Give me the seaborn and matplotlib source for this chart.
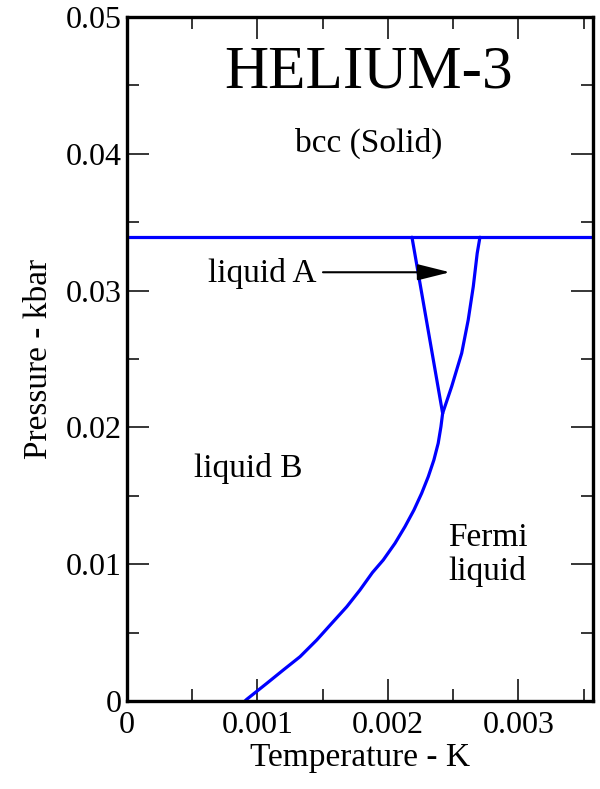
import numpy as np
import pandas as pd
import matplotlib
matplotlib.use('Agg')
import matplotlib.pyplot as plt
import matplotlib.ticker as mticker
import seaborn as sns

# phase boundaries of He-3 (T in K, P in kbar)
melt_T = [0.0, 0.00357]
melt_P = [0.0339, 0.0339]

ab_T = [0.002184, 0.002419]
ab_P = [0.0339, 0.02103]

an_T = [0.002705, 0.002684, 0.002654, 0.002615, 0.002565, 0.002488, 0.002419]
an_P = [0.0339, 0.03273, 0.03030, 0.02785, 0.02542, 0.02298, 0.02103]

bn_T = [0.002419, 0.002406, 0.002385, 0.002352, 0.002309, 0.002258, 0.002199,
        0.002130, 0.002054, 0.001964, 0.001881, 0.001785, 0.001684, 0.001569,
        0.001454, 0.001326, 0.001198, 0.001071, 0.000917, 0.000904]
bn_P = [0.02103, 0.02005, 0.01884, 0.01762, 0.01640, 0.01518, 0.01396,
        0.01274, 0.01153, 0.01031, 0.00939, 0.00811, 0.00689, 0.00568,
        0.00446, 0.00324, 0.00227, 0.00129, 0.00012, 0.0]

x_ticks = [0, 0.001, 0.002, 0.003]
y_ticks = [0, 0.01, 0.02, 0.03, 0.04, 0.05]

sns.set_style('ticks')
plt.rcParams['font.family'] = ['Liberation Serif', 'DejaVu Serif']
plt.rcParams['text.color'] = 'black'
plt.rcParams['axes.labelcolor'] = 'black'
plt.rcParams['xtick.color'] = 'black'
plt.rcParams['ytick.color'] = 'black'

fig = plt.figure(figsize=(6, 7.89), dpi=100)
ax = fig.add_axes([0.2117, 0.1115, 0.7763, 0.867])

for T, P in [(melt_T, melt_P), (ab_T, ab_P), (an_T, an_P), (bn_T, bn_P)]:
    df = pd.DataFrame({'T': T, 'P': P})
    sns.lineplot(data=df, x='T', y='P', sort=False, color='#0000ff',
                 linewidth=2.3, ax=ax)

ax.set_xlim(0, 0.00357)
ax.set_ylim(0, 0.05)

ax.xaxis.set_major_locator(mticker.FixedLocator(x_ticks))
ax.yaxis.set_major_locator(mticker.FixedLocator(y_ticks))
ax.xaxis.set_minor_locator(mticker.MultipleLocator(0.0005))
ax.yaxis.set_minor_locator(mticker.MultipleLocator(0.005))
fmt = mticker.FuncFormatter(lambda v, p: '{:g}'.format(round(v, 6)))
ax.xaxis.set_major_formatter(fmt)
ax.yaxis.set_major_formatter(fmt)

ax.tick_params(which='both', direction='in', top=True, right=True,
               width=1.1, color='black', labelcolor='black', labelsize=23)
ax.tick_params(which='major', length=16)
ax.tick_params(which='minor', length=8.5)
ax.tick_params(axis='x', pad=7)
ax.tick_params(axis='y', pad=4)

for s in ax.spines.values():
    s.set_linewidth(2.4)
    s.set_color('black')

ax.set_xlabel('Temperature - K', fontsize=24, labelpad=2, color='black')
ax.set_ylabel('Pressure - kbar', fontsize=24, labelpad=8, color='black')

ax.text(0.001854, 0.04488, 'HELIUM-3', fontsize=44, ha='center', va='baseline')
ax.text(0.001854, 0.04015, 'bcc (Solid)', fontsize=24, ha='center', va='baseline')
ax.text(0.001034, 0.03065, 'liquid A', fontsize=24, ha='center', va='baseline')
ax.text(0.000927, 0.0164, 'liquid B', fontsize=24, ha='center', va='baseline')
ax.text(0.00246, 0.01130, 'Fermi', fontsize=24, ha='left', va='baseline')
ax.text(0.00246, 0.00885, 'liquid', fontsize=24, ha='left', va='baseline')

ax.annotate('', xy=(0.002475, 0.03134), xytext=(0.001502, 0.03134),
            arrowprops=dict(arrowstyle='-|>,head_length=1.0,head_width=0.25',
                            color='black', lw=1.5, mutation_scale=20,
                            shrinkA=0, shrinkB=0))

fig.savefig('out.png', dpi=100)
